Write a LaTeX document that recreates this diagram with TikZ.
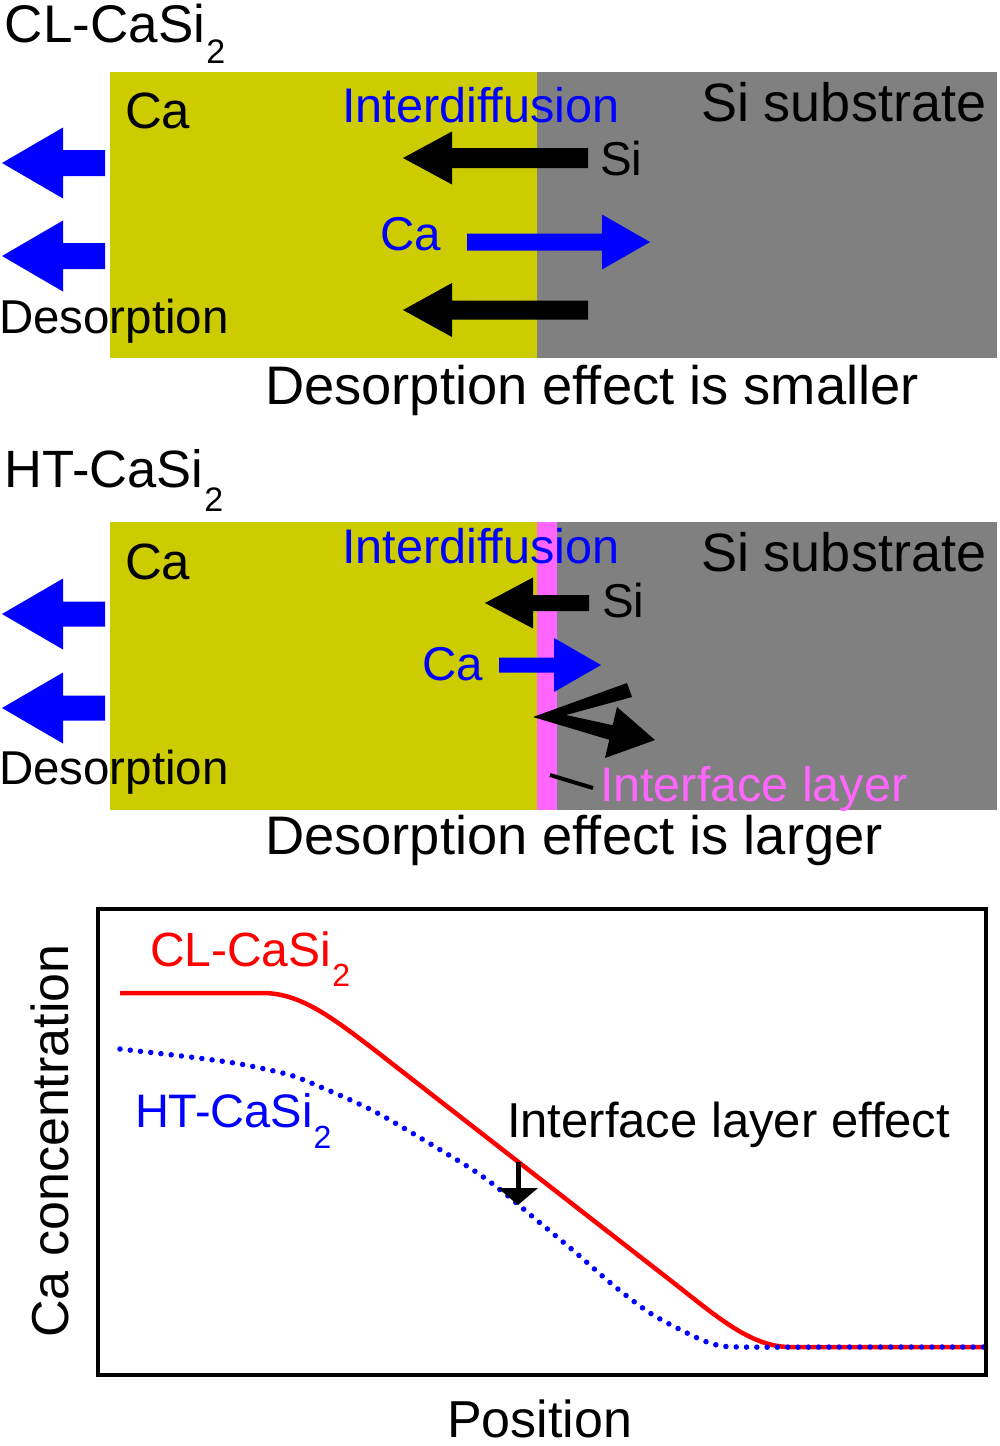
\documentclass[tikz,border=0pt]{standalone}
\usepackage{fontspec}
\setmainfont{Liberation Sans}
\usetikzlibrary{arrows.meta}
\definecolor{cayel}{HTML}{CCCC00}
\definecolor{sigray}{HTML}{808080}
\definecolor{ilpink}{HTML}{FF66FF}
% color, tail x, y, tip x, shaft half width, head base x, head half width
\newcommand\blockarr[7]{%
\fill[#1] (#2,#3-#5) -- (#6,#3-#5) -- (#6,#3-#7) -- (#4,#3) -- (#6,#3+#7) -- (#6,#3+#5) -- (#2,#3+#5) -- cycle;}
\newcommand\subtwo[2]{\kern1pt\raisebox{-#1pt}{\fontsize{#2pt}{#2pt}\selectfont 2}}
\tikzset{
  lbl/.style={inner sep=0pt, outer sep=0pt, anchor=base west, font=\fontsize{#1pt}{#1pt}\selectfont},
  redline/.style={draw=red, line width=4.5pt, line join=round},
  blueline/.style={draw=blue, line width=5.5pt, line cap=round, dash pattern=on 0pt off 10.3pt},
}
\begin{document}
\begin{tikzpicture}[x=1pt,y=-1pt]
\useasboundingbox (0,0) rectangle (1000,1446);
\fill[white] (0,0) rectangle (1000,1446);

% ---------- top panel ----------
\fill[cayel] (110,72) rectangle (537,358);
\fill[sigray] (537,72) rectangle (997,358);
\node[lbl=53] (t1) at (5,42) {CL-CaSi\subtwo{21}{34}};
\node[lbl=51] (ca1) at (125,128) {Ca};
\node[lbl=48.6, text=blue] (id1) at (342,122) {Interdiffusion};
\node[lbl=54] (ss1) at (701,121) {Si substrate};
\node[lbl=47.5] (si1) at (600,175) {Si};
\node[lbl=47.5, text=blue] (cab1) at (380,250) {Ca};
\node[lbl=47.5] (de1) at (-1,333) {Desorption};
\node[lbl=54.3] (ef1) at (265,404) {Desorption effect is smaller};
\blockarr{blue}{105}{163}{2}{13}{63}{35.5}
\blockarr{blue}{105}{256}{2}{13}{63}{35.5}
\blockarr{black}{588}{158}{403}{10}{452}{26.5}
\blockarr{blue}{467}{242}{650}{8.5}{602}{27.5}
\blockarr{black}{588}{310}{403}{9.5}{452}{27}

% ---------- middle panel ----------
\fill[cayel] (110,522) rectangle (537,810);
\fill[sigray] (557,522) rectangle (997,810);
\fill[ilpink] (537,522) rectangle (557,810);
\node[lbl=52.5] (t2) at (5,487) {HT-CaSi\subtwo{24}{34}};
\node[lbl=51] (ca2) at (125,579) {Ca};
\node[lbl=48.6, text=blue] (id2) at (342,563) {Interdiffusion};
\node[lbl=54] (ss2) at (701,571) {Si substrate};
\node[lbl=47.5] (si2) at (602,617) {Si};
\node[lbl=47.5, text=blue] (cab2) at (422,680) {Ca};
\node[lbl=47.5] (de2) at (-1,784) {Desorption};
\node[lbl=48.5, text=ilpink] (il) at (600,801) {Interface layer};
\node[lbl=54.3] (ef2) at (265,854) {Desorption effect is larger};
\blockarr{blue}{105}{614}{2}{12.5}{63}{35.5}
\blockarr{blue}{105}{708}{2}{12.5}{63}{35.5}
\blockarr{black}{589}{603}{485}{8}{533}{25.5}
\blockarr{blue}{499}{665}{601}{7.5}{554}{27}
% reflected arrow at the interface layer
\fill[black] (533,717) -- (627,683) -- (632,697) -- (566,715) -- (612.7,725.2)
  -- (617,707) -- (655,740) -- (605,758) -- (609.3,739.8) -- cycle;
\coordinate (lead1) at (550,775);
\coordinate (lead2) at (593,788);
\draw[line width=4pt] (lead1) -- (lead2);

% ---------- bottom plot ----------
\draw[redline] (120,993) -- (262,993) .. controls (300,993) and (330,1015) .. (390,1062)
  -- (670,1280) .. controls (715,1315) and (750,1347) .. (790,1347) -- (988,1347);
\draw[blueline] plot[smooth, tension=0.5] coordinates {(120,1049) (190,1057) (240,1064) (290,1075) (323,1088) (357,1103) (390,1120) (470,1168) (503,1192) (533,1217) (575,1252) (613,1285) (650,1313) (687,1333) (713,1344) (740,1347) (860,1347) (988,1347)};
\draw[line width=4pt] (98,909) rectangle (986,1375);
\coordinate (ar1) at (518,1162);
\coordinate (ar2) at (518,1190);
\draw[line width=5pt] (ar1) -- (ar2);
\fill[black] (498,1188) -- (538,1188) -- (518,1205) -- cycle;
\node[lbl=48, text=red] (cl) at (150,966) {CL-CaSi\subtwo{20}{32}};
\node[lbl=47, text=blue] (ht) at (135,1127) {HT-CaSi\subtwo{21}{32}};
\node[lbl=49] (ile) at (507,1137) {Interface layer effect};
\node[lbl=52] (pos) at (447,1437) {Position};
\node[inner sep=0pt, outer sep=0pt, anchor=base, rotate=90, font=\fontsize{52pt}{52pt}\selectfont] (yl) at (68,1141) {Ca concentration};
\end{tikzpicture}
\end{document}
